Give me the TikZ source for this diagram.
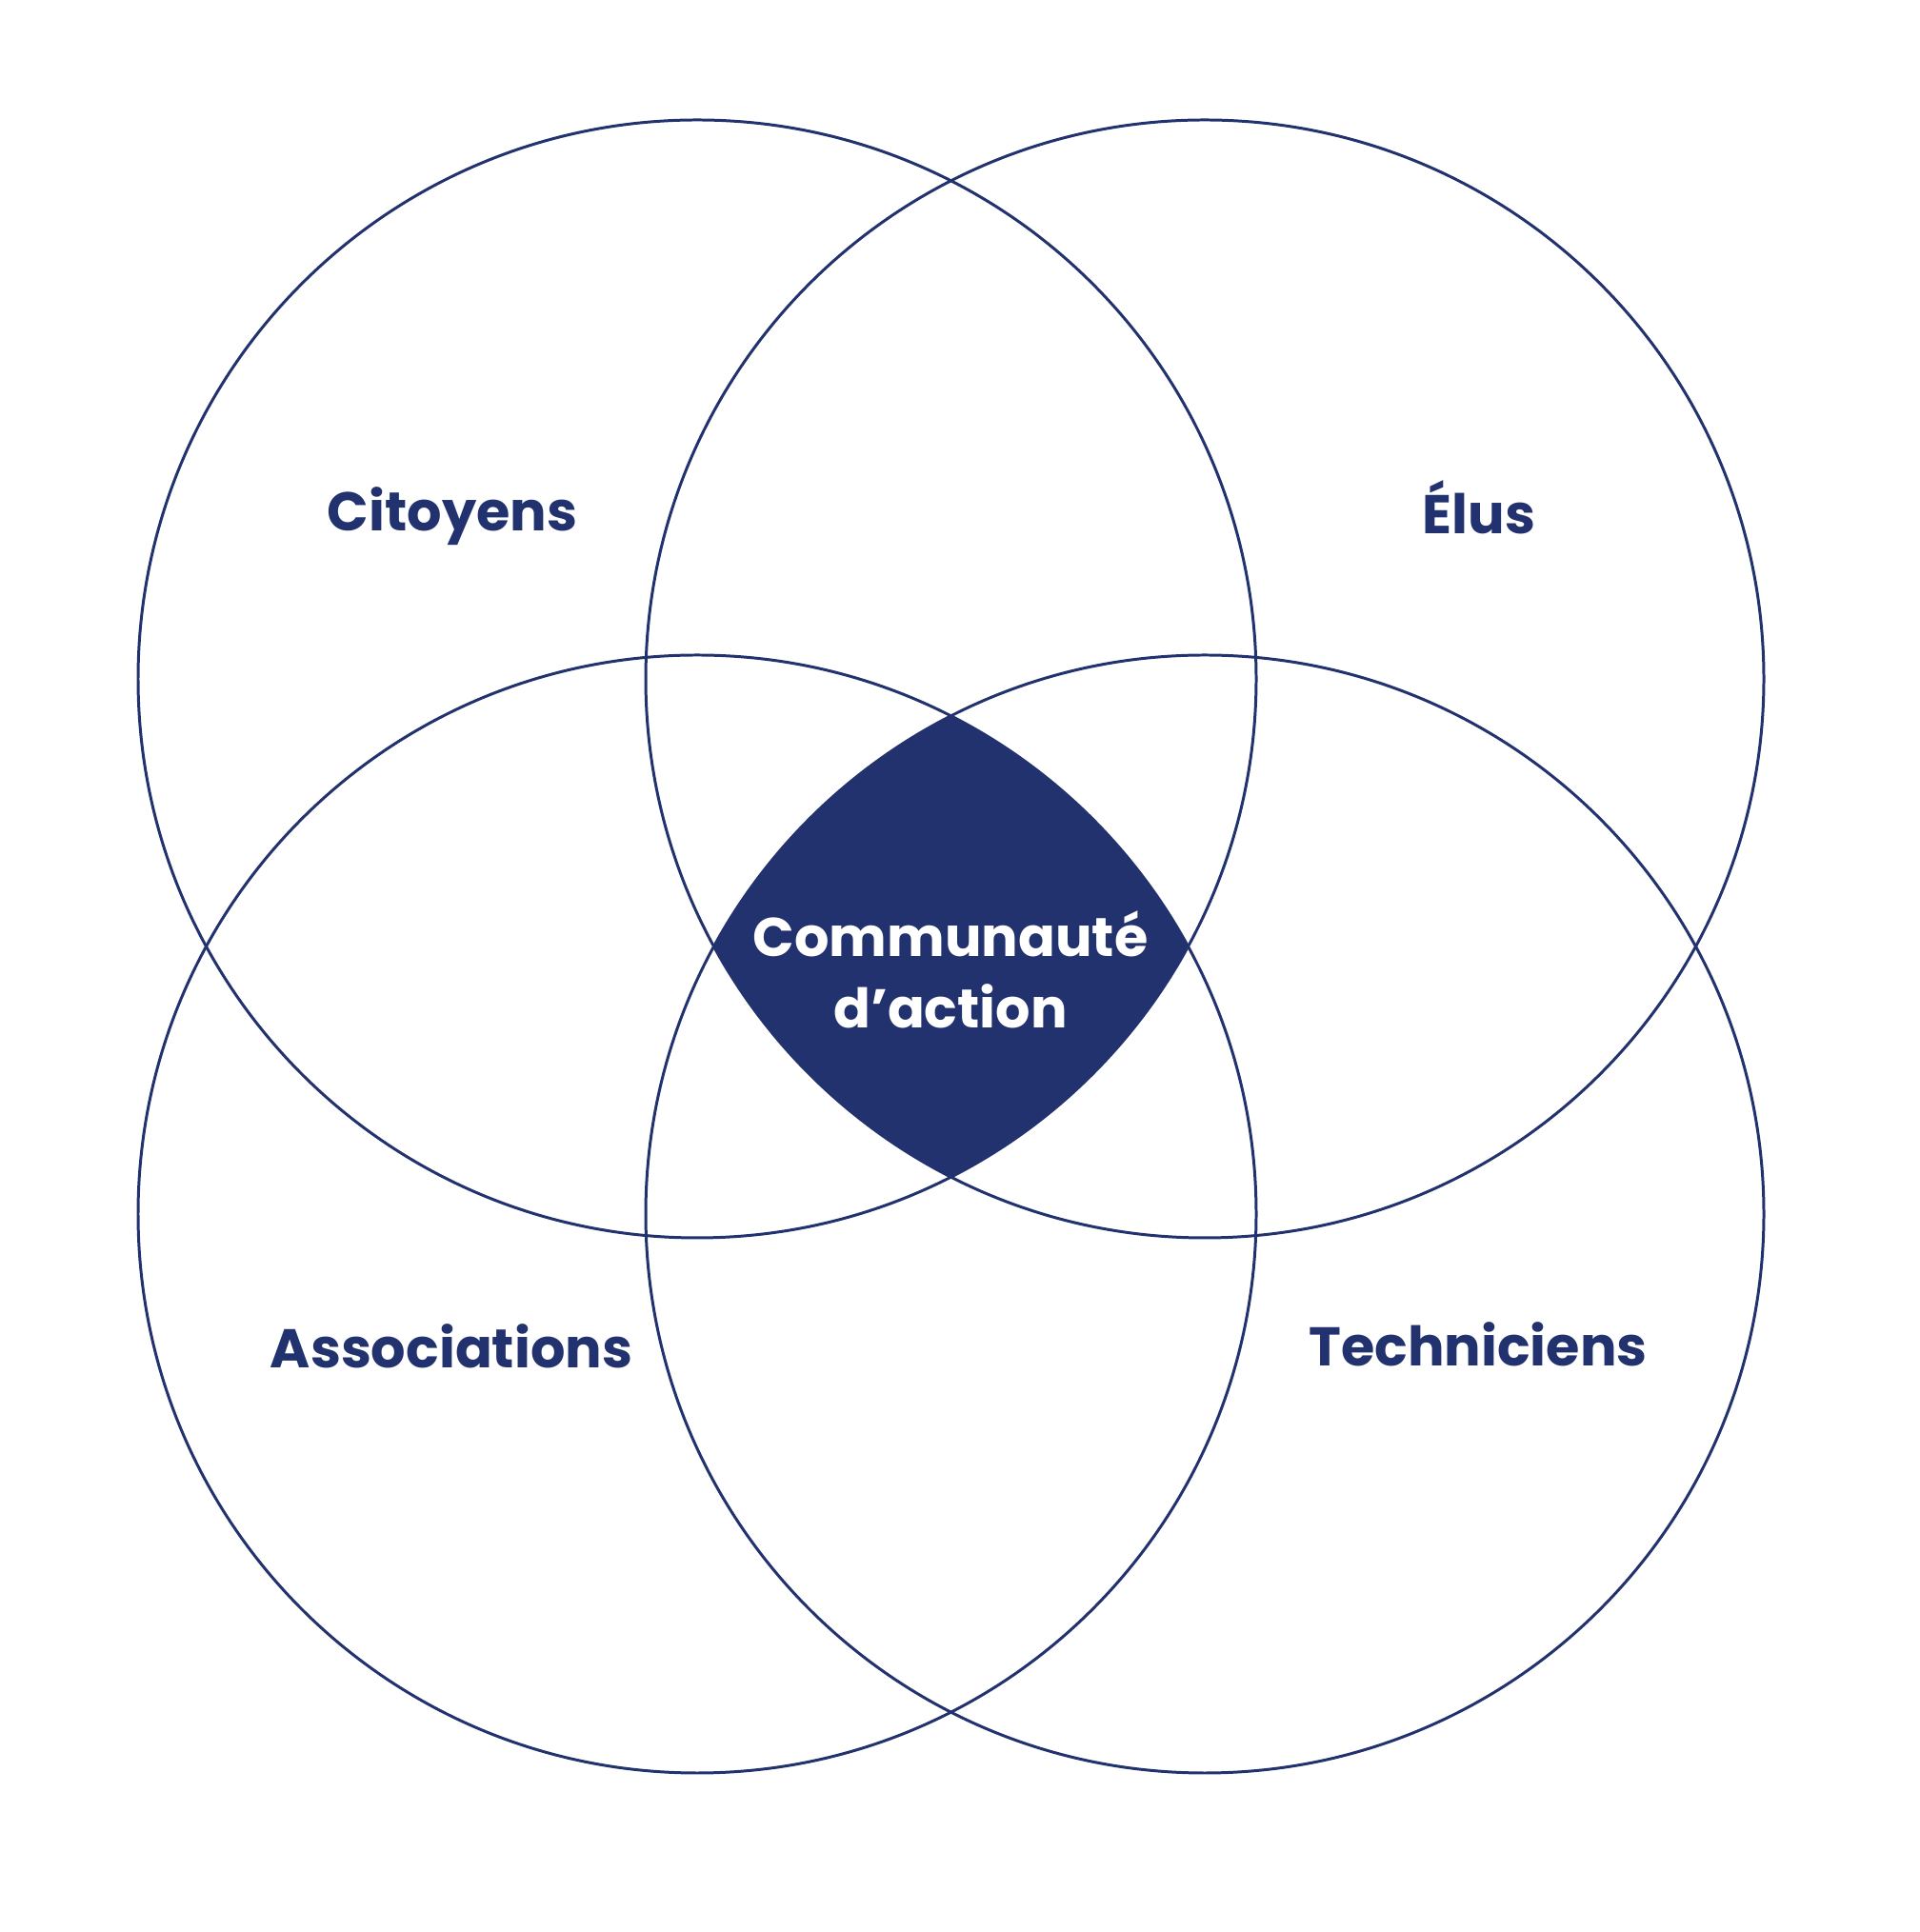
\documentclass[tikz,border=0pt]{standalone}
\usepackage{fontspec}
\setmainfont{Poppins}
\usepackage{tikz}

\definecolor{navy}{RGB}{34,50,110}

\begin{document}
\begin{tikzpicture}
        \tikzset{circles/.style={draw=navy, circle, line width=0.85pt, inner sep=0pt, minimum size=11.74cm},
                 labels/.style={text=navy, anchor=base, inner sep=0pt, font=\bfseries\fontsize{16.3}{20}\selectfont},
                 inlabel/.style={labels, text=white}}
        \useasboundingbox (0,0) rectangle (20.16,20.29);
        \begin{scope}
            \clip (7.32,13.16) circle (5.87);
            \clip (12.65,13.16) circle (5.87);
            \clip (7.32,7.54) circle (5.87);
            \fill [navy] (12.65,7.54) circle (5.87);
        \end{scope}
        \node [circles] (cit)  at (7.32, 13.16){};
        \node [circles] (elus) at (12.65,13.16){};
        \node [circles] (asso) at (7.32, 7.54){};
        \node [circles] (tech) at (12.65,7.54){};
        \node [labels] (lcit)  at (4.75, 14.71){Citoyens};
        \node [labels] (lelus) at (15.53,14.68){Élus};
        \node [labels] (lasso) at (4.74, 5.92){Associations};
        \node [labels] (ltech) at (15.52,5.94){Techniciens};
        \node [inlabel] (comm) at (9.98,10.24){Communauté};
        \node [inlabel] (act)  at (9.98, 9.49){d’action};
    \end{tikzpicture}
\end{document}
